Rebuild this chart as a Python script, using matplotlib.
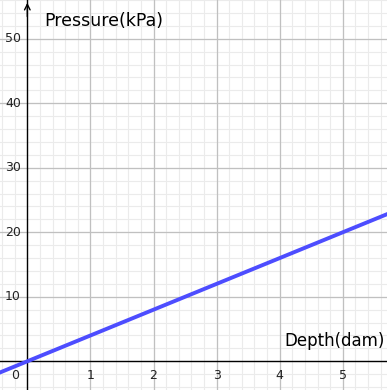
import matplotlib
matplotlib.use("Agg")
import matplotlib.pyplot as plt
import numpy as np

# data
depth = [-0.5, 5.8]
slope = 4.0  # kPa per dam
pressure = [slope * d for d in depth]
x_ticks = [1, 2, 3, 4, 5]
y_ticks = [10, 20, 30, 40, 50]
x_label = "Depth(dam)"
y_label = "Pressure(kPa)"

W, H = 387, 390
fig = plt.figure(figsize=(W / 100, H / 100), dpi=100)
ax = fig.add_axes([0, 0, 1, 1])
xmin, xmax = -0.433, 5.70
ymin, ymax = -4.45, 56.0
ax.set_xlim(xmin, xmax)
ax.set_ylim(ymin, ymax)
for s in ax.spines.values():
    s.set_visible(False)
ax.set_xticks([])
ax.set_yticks([])

# minor grid
for v in np.arange(-0.4, 5.8, 0.2):
    ax.axvline(v, color="#ebebeb", lw=0.8, zorder=0)
for v in np.arange(-4, 57, 2):
    ax.axhline(v, color="#ebebeb", lw=0.8, zorder=0)
# major grid
for v in x_ticks:
    ax.axvline(v, color="#c0c0c0", lw=0.9, zorder=1)
for v in y_ticks:
    ax.axhline(v, color="#c0c0c0", lw=0.9, zorder=1)

# axes
ax.axhline(0, color="black", lw=1.0, zorder=2)
ax.axvline(0, color="black", lw=1.0, zorder=2)
ax.annotate("", xy=(0, ymax), xytext=(0, ymax - 3),
            arrowprops=dict(arrowstyle="->", color="black", lw=1.0, mutation_scale=10),
            zorder=3)

# tick labels
for v in x_ticks:
    ax.text(v, -2.2, str(v), ha="center", va="center", fontsize=9, color="#222222")
ax.text(-0.19, -2.2, "0", ha="center", va="center", fontsize=9, color="#222222")
for v in y_ticks:
    ax.text(-0.1, v, str(v), ha="right", va="center", fontsize=9, color="#222222")

# axis labels
ax.text(0.27, 52.8, y_label, ha="left", va="center", fontsize=12.5, color="black")
ax.text(5.66, 3.2, x_label, ha="right", va="center", fontsize=12, color="black")

# line
ax.plot(depth, pressure, color="#4d4dff", lw=2.8, zorder=4, solid_capstyle="butt")

fig.savefig("out.png", dpi=100)
